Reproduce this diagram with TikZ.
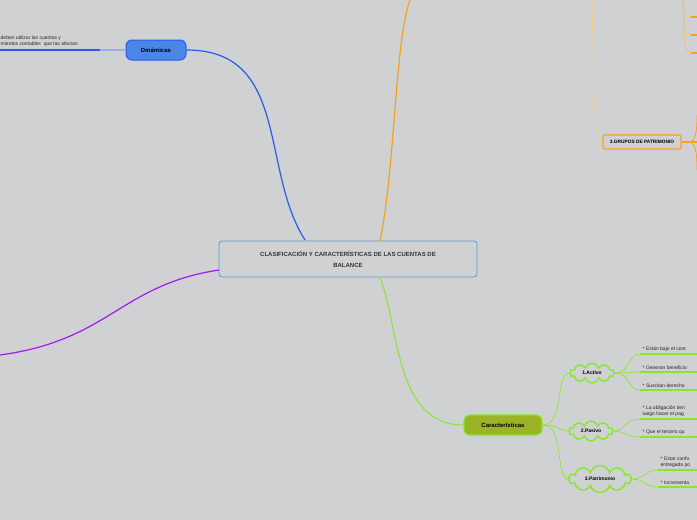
\documentclass[tikz,border=0pt]{standalone}
\usepackage{fontspec}
\setmainfont{Liberation Sans}
\usetikzlibrary{shapes.symbols}
\definecolor{bg}{HTML}{CFD1D3}
\definecolor{cblue}{HTML}{2A5CE6}
\definecolor{corange}{HTML}{F7A21B}
\definecolor{cpurple}{HTML}{A11AF0}
\definecolor{cgreen}{HTML}{86E82A}
\tikzset{
 leaf/.style={anchor=south west,inner sep=0.5pt,font=\fontsize{5}{6}\selectfont,align=left,text=black!85},
 cloudn/.style={cloud,cloud puffs=10,aspect=2.4,inner sep=0pt,draw=cgreen,line width=1.4pt,fill=bg,minimum width=44pt,minimum height=20pt,font=\fontsize{5}{6}\selectfont\bfseries},
 gl/.style={cgreen,line width=0.6pt},
 gu/.style={cgreen,line width=1.4pt},
}
\begin{document}
\begin{tikzpicture}[x=1pt,y=-1pt]
\fill[bg] (0,0) rectangle (697,520);
\clip (0,0) rectangle (697,520);
\useasboundingbox (0,0) rectangle (697,520);
% central
\node[draw={rgb,255:red,91;green,155;blue,213},fill=bg,rounded corners=3pt,line width=0.8pt,minimum width=258pt,minimum height=36pt,align=center,font=\fontsize{6}{11}\selectfont\bfseries,text=black!80] (c) at (348,259) {CLASIFICACIÓN Y CARACTERÍSTICAS DE LAS CUENTAS DE\\BALANCE};
% blue
\node[draw=cblue,fill={rgb,255:red,74;green,134;blue,232},rounded corners=6pt,line width=1pt,minimum width=60pt,minimum height=20pt,font=\fontsize{6}{7}\selectfont\bfseries] (din) at (156,50) {Dinámicas};
\draw[cblue,line width=1.2pt] (305,240) .. controls (260,170) and (290,50) .. (din.east);
\draw[cblue!50,line width=1.5pt] (din.west) -- (100,50);
\draw[cblue,line width=1.5pt] (100,50) -- (0,50);
\node[leaf] (t1) at (0,47) {deben utilizar las cuentas y\\mientos contables \ que las afectan.};
% orange
\draw[corange,line width=1.2pt] (380,241) .. controls (395,170) and (395,40) .. (410,0);
\node[draw=corange,fill=bg,rounded corners=2pt,line width=1.2pt,minimum width=78pt,minimum height=14pt,inner sep=1pt,font=\fontsize{4.8}{6}\selectfont\bfseries] (gp) at (642,142) {3.GRUPOS DE PATRIMONIO};
\draw[corange!60,line width=0.6pt] (592,0) .. controls (594,60) and (592,142) .. (gp.west);
\draw[corange,line width=1.2pt] (gp.east) -- (697,142);
\draw[corange,line width=0.8pt] (690,142) .. controls (697,140) and (697,125) .. (697,115);
\draw[corange,line width=0.8pt] (690,142) .. controls (697,144) and (697,160) .. (697,170);
\foreach \yy in {17,35,53}{
 \draw[corange!70,line width=0.5pt] (683,0) .. controls (684,\yy-6) and (685,\yy) .. (691,\yy);
 \draw[corange,line width=1.2pt] (691,\yy) -- (697,\yy);}
% purple
\draw[cpurple,line width=1.2pt] (219,270) .. controls (120,285) and (110,340) .. (0,355);
% green
\node[draw=cgreen,fill={rgb,255:red,155;green,180;blue,38},rounded corners=6pt,line width=1.2pt,minimum width=78pt,minimum height=20pt,font=\fontsize{6}{7}\selectfont\bfseries] (car) at (503,425) {Características};
\draw[gl,line width=1pt] (380,277) .. controls (400,330) and (395,425) .. (car.west);
\node[cloudn] (a) at (592,373) {1.Activo};
\node[cloudn] (p) at (591,431) {2.Pasivo};
\node[cloudn,minimum width=62pt] (pt) at (600,479) {3.Patrimonio};
\draw[gl] (car.east) .. controls (565,425) and (555,373) .. (a.west);
\draw[gl] (car.east) .. controls (560,425) and (560,431) .. (p.west);
\draw[gl] (car.east) .. controls (565,425) and (555,479) .. (pt.west);
% Activo leaves
\node[leaf] (a1) at (642,352) {* Están bajo el cont};
\node[leaf] (a2) at (642,370) {* Generan beneficio};
\node[leaf] (a3) at (642,388) {* Suscitan derecho};
\foreach \yy in {354,372,390}{\draw[gl] (a.east) .. controls (630,373) and (628,\yy) .. (640,\yy); \draw[gu] (640,\yy) -- (697,\yy);}
% Pasivo
\node[leaf] (p1) at (642,417) {* La obligación tien\\luego hacer el pag};
\node[leaf] (p2) at (642,435) {* Que el tercero qu};
\foreach \yy in {419,437}{\draw[gl] (p.east) .. controls (625,431) and (625,\yy) .. (640,\yy); \draw[gu] (640,\yy) -- (697,\yy);}
% Patrimonio
\node[leaf] (t2) at (660,468) {* Estar confo\\entregada po};
\node[leaf] (t3) at (660,485) {* Incrementa};
\foreach \yy in {470,487}{\draw[gl] (pt.east) .. controls (645,479) and (645,\yy) .. (658,\yy); \draw[gu] (658,\yy) -- (697,\yy);}
\end{tikzpicture}
\end{document}
